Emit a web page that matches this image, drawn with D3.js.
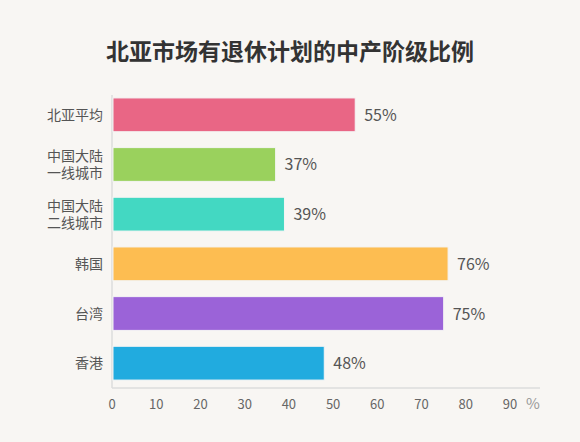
<!DOCTYPE html>
<html><head><meta charset="utf-8">
<script src="https://cdn.jsdelivr.net/npm/d3@7"></script>
<style>body{margin:0;background:#f8f6f3}</style></head>
<body><svg id="c" width="580" height="442"></svg>
<script>
const categories=[["北亚平均"],["中国大陆","一线城市"],["中国大陆","二线城市"],["韩国"],["台湾"],["香港"]];
const values=[55,37,39,76,75,48];
const colors=["#e96685","#9ad15d","#43d8c2","#fdbd51","#9b63d8","#21abdf"];
const ticks=[0,10,20,30,40,50,60,70,80,90];
const svg=d3.select("#c");
svg.append("rect").attr("width",580).attr("height",442).attr("fill","#f8f6f3");
const font="'Noto Sans CJK SC',sans-serif";
svg.append("text").attr("x",290).attr("y",60).attr("text-anchor","middle").attr("font-family",font)
 .attr("font-size",23).attr("font-weight","bold").attr("fill","#333").text("北亚市场有退休计划的中产阶级比例");
const x=d3.scaleLinear().domain([0,90]).range([112,510]);
const y=d3.scaleBand().domain(d3.range(values.length)).range([88,390]).paddingInner(0.32).paddingOuter(0.2);
svg.append("line").attr("x1",112).attr("x2",540).attr("y1",388).attr("y2",388).attr("stroke","#ddd").attr("stroke-width",1.5);
svg.append("line").attr("x1",112).attr("x2",112).attr("y1",95).attr("y2",388).attr("stroke","#ddd").attr("stroke-width",1.5);
svg.selectAll(".b").data(values).join("rect").attr("x",x(0)+1).attr("y",(d,i)=>y(i))
 .attr("width",d=>x(d)-x(0)-1).attr("height",y.bandwidth()).attr("fill",(d,i)=>colors[i]).attr("stroke","#f4f4f4").attr("stroke-width",1);
svg.selectAll(".v").data(values).join("text").attr("x",d=>x(d)+9).attr("y",(d,i)=>y(i)+y.bandwidth()/2+6)
 .attr("font-family",font).attr("font-size",16).attr("fill","#555").text(d=>d+"%");
categories.forEach((c,i)=>{
 const t=svg.append("text").attr("text-anchor","end").attr("font-family",font).attr("font-size",14).attr("fill","#555");
 const cy=y(i)+y.bandwidth()/2;
 c.forEach((s,j)=>t.append("tspan").attr("x",103).attr("y",cy+5+(j-(c.length-1)/2)*17).text(s));
});
svg.selectAll(".t").data(ticks).join("text").attr("x",d=>x(d)).attr("y",409).attr("text-anchor","middle")
 .attr("font-family",font).attr("font-size",13).attr("fill","#666").text(d=>d);
svg.append("text").attr("x",533).attr("y",409).attr("text-anchor","middle").attr("font-family",font).attr("font-size",15).attr("fill","#999").text("%");
</script></body></html>
